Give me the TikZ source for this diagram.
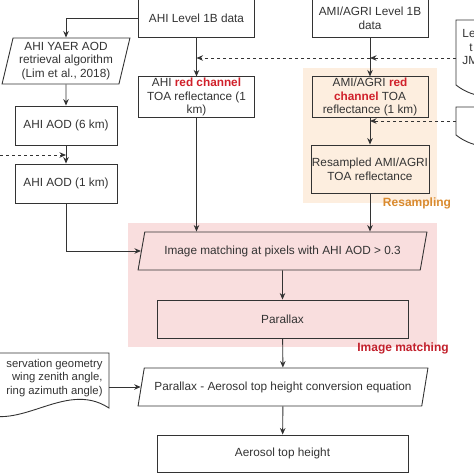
\documentclass[tikz,border=0pt]{standalone}
\usepackage{fontspec}
\setmainfont{Liberation Sans}
\usetikzlibrary{arrows.meta, shapes.geometric}

\definecolor{inkgray}{HTML}{333333}
\definecolor{chanred}{HTML}{D0202A}
\definecolor{resamporange}{HTML}{D98A2E}
\definecolor{resampbg}{HTML}{FDEEDF}
\definecolor{matchbg}{HTML}{F9DEDE}
\definecolor{matchred}{HTML}{C21F2B}

\begin{document}
\begin{tikzpicture}[x=1pt, y=-1pt, line width=0.9pt, draw=inkgray, >={Stealth[length=6.5pt, width=5.5pt]},
    every node/.style={font=\fontsize{11.8}{13.6}\selectfont, text=inkgray},
    box/.style={draw, rectangle, align=center, minimum width=116pt, minimum height=38pt, inner sep=1pt},
    para/.style={draw, trapezium, trapezium left angle=66, trapezium right angle=114,
                 trapezium stretches=true, align=center, minimum height=38pt, inner sep=1pt},
    tag/.style={font=\fontsize{12}{13.6}\selectfont\bfseries}]
    \useasboundingbox (0,0) rectangle (474,474);
    \clip (0,0) rectangle (474,474);

    % Background regions
    \fill[resampbg] (303,68) rectangle (437,203);
    \fill[matchbg] (128,223) rectangle (437,347);

    % Define boxes
    \node[box] (ahil1b) at (196.5,18.5) {AHI Level 1B data};
    \node[box] (amil1b) at (370,18.5) {AMI/AGRI Level 1B\\data};
    \node[box] (ahired) at (196.5,97) {AHI \textbf{\color{chanred}red channel}\\TOA reflectance (1\\km)};
    \node[box] (amired) at (370,97) {AMI/AGRI \textbf{\color{chanred}red}\\\textbf{\color{chanred}channel} TOA\\reflectance (1 km)};
    \node[box, minimum height=48pt] (resamp) at (370,169) {Resampled AMI/AGRI\\TOA reflectance};
    \node[para, trapezium left angle=76, trapezium right angle=104, minimum width=128pt, minimum height=46pt] (yaer) at (66,61) {AHI YAER AOD\\retrieval algorithm\\(Lim et al., 2018)};
    \node[box, minimum width=102pt, minimum height=39pt] (aod6) at (66,125.5) {AHI AOD (6 km)};
    \node[box, minimum width=102pt, minimum height=39pt] (aod1) at (66,183.5) {AHI AOD (1 km)};
    \node[para, minimum width=289pt] (imgmatch) at (282.5,251) {Image matching at pixels with AHI AOD > 0.3};
    \node[box, minimum width=251pt] (parallax) at (282.5,319) {Parallax};
    \node[para, minimum width=290pt] (convert) at (283,387) {Parallax - Aerosol top height conversion equation};
    \node[box, minimum width=251pt, minimum height=37pt] (aeroh) at (282.5,453.5) {Aerosol top height};

    % Document shapes (cut at the edges)
    \node[anchor=east, minimum height=50pt, text width=97pt, align=flush right, inner xsep=6pt, inner ysep=0pt,
          font=\fontsize{11.3}{13.6}\selectfont] (geom) at (109,378)
        {servation geometry\\wing zenith angle,\\ring azimuth angle)};
    \draw (-29,353) -- (109,353) -- (109,408) .. controls (63,378) and (17,438) .. (-29,408) -- cycle;
    \node[anchor=west, align=left, inner sep=6pt] (jmadoc) at (456,47) {Le\\\hspace*{7pt}t\\JM};
    \draw (520,20) -- (456,20) -- (456,85) .. controls (475,100) and (500,100) .. (520,85);
    \node[anchor=west, inner sep=0pt, minimum height=28pt] (cthdoc) at (456,121) {};
    \draw (520,107) -- (456,107) -- (456,135) .. controls (475,150) and (500,150) .. (520,135);
    \coordinate (aodin) at (0,155);

    % Group labels
    \node[tag, text=resamporange] (resamplbl) at (417,203) {Resampling};
    \node[tag, text=matchred] (matchlbl) at (403,348) {Image matching};

    % Draw edges
    \draw[->] (ahil1b.west) -| (yaer.north);
    \draw[->] (yaer) -- (aod6);
    \draw[->] (aod6) -- (aod1);
    \draw[->] (aod1.south) |- (imgmatch.west);
    \draw[->] (ahil1b) -- (ahired);
    \draw[->] (amil1b) -- (amired);
    \draw[->] (amired) -- (resamp);
    \draw[->] (ahired) -- (ahired |- imgmatch.north);
    \draw[->] (resamp) -- (resamp |- imgmatch.north);
    \draw[->] (imgmatch) -- (parallax);
    \draw[->] (parallax) -- (convert);
    \draw[->] (convert) -- (aeroh);
    \draw[->] (geom.east |- convert.west) -- (convert.west);

    % Dashed inputs
    \draw[dashed, ->] ([yshift=-11pt]jmadoc.west) -- ([yshift=-11pt]jmadoc.west -| amil1b.south);
    \draw[dashed, ->] ([yshift=-11pt]jmadoc.west -| amil1b.south) -- ([yshift=-11pt]jmadoc.west -| ahil1b.south);
    \draw[dashed, ->] (cthdoc.west) -- (cthdoc.west -| amired.south);
    \draw[dashed, ->] (aodin) -- (aodin -| aod6.south);
\end{tikzpicture}
\end{document}
